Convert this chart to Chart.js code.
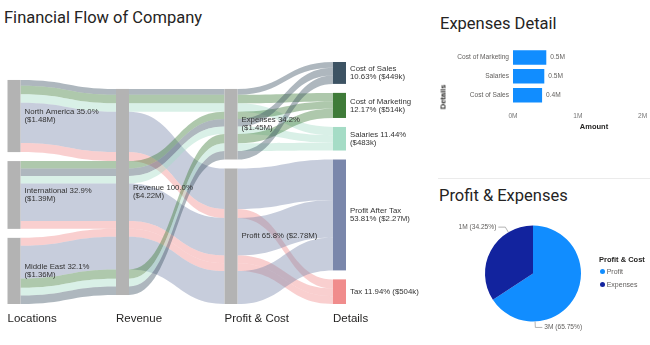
<!DOCTYPE html>
<html>
<head>
<meta charset="utf-8">
<title>Financial Flow of Company</title>
<script src="https://cdn.jsdelivr.net/npm/chart.js@4.4.0/dist/chart.umd.min.js"></script>
<style>
body{margin:0;width:650px;height:345px;overflow:hidden;background:#fff;position:relative;font-family:'Liberation Sans',Arial,sans-serif;color:#252423}
.title{position:absolute;font-family:Roboto,sans-serif;font-size:16.5px;line-height:20px;white-space:nowrap;color:#252423}
.box{position:absolute}
#flowBox{left:0;top:0;width:440px;height:345px}
#barBox{left:440px;top:40px;width:235px;height:91px}
#pieBox{left:440px;top:208px;width:186px;height:132px}
#barYTitle{position:absolute;left:443px;top:97px;font-size:7.5px;font-weight:bold;transform:translate(-50%,-50%) rotate(-90deg);white-space:nowrap}
#sep{position:absolute;left:438px;top:178px;width:212px;height:0;border-top:1px solid #ebebeb}
#pieLegend{position:absolute;left:599px;top:255px;font-size:7px;color:#605e5c}
#pieLegend .head{font-weight:bold;color:#252423;font-size:7.5px;line-height:9px;margin-bottom:1.4px}
#pieLegend .item{display:flex;align-items:center;height:12.6px}
#pieLegend .dot{width:5px;height:5px;border-radius:50%;margin:0 2.2px 0 0.5px}
</style>
</head>
<body>
<div class="title" style="left:4px;top:7.7px">Financial Flow of Company</div>
<div class="title" style="left:440px;top:14.4px">Expenses Detail</div>
<div id="sep"></div>
<div class="title" style="left:439px;top:186px">Profit &amp; Expenses</div>
<div class="box" id="flowBox"><canvas id="flowChart"></canvas></div>
<div class="box" id="barBox"><canvas id="barChart"></canvas></div>
<div id="barYTitle">Details</div>
<div class="box" id="pieBox"><canvas id="pieChart"></canvas></div>
<div id="pieLegend"></div>
<script>
// sankey columns and nodes
const columns=['Locations','Revenue','Profit & Cost','Details'];
const locations=['North America','International','Middle East'];
const costGroups=['Expenses','Profit'];
const details=['Cost of Sales','Cost of Marketing','Salaries','Profit After Tax','Tax'];
// $k per detail (same order as details) for each location
const northAmerica=[120,175,170,828.8,183.8];
const international=[155,150,155,768,160.9];
const middleEast=[173.8,188.8,158,675,159.5];
// stacking order of the bands leaving each location (indexes into details)
const bandOrder=[[0,1,2,3,4],[1,0,2,3,4],[4,3,1,2,0]];
// cost group each detail rolls up into
const detailGroup=[0,0,0,1,1];

// Expenses Detail bars ($k)
const expenseLabels=['Cost of Marketing','Salaries','Cost of Sales'];
const expenseAmounts=[513.8,483,448.8];
const amountTicks=[0,1000,2000];

// Profit & Expenses pie ($k)
const pieLabels=['Profit','Expenses'];
const pieAmounts=[2776,1446];

Chart.defaults.font.family="'Liberation Sans', Arial, sans-serif";

const NODE_W=13,NODE_GAP=184; // gap is in $k so it follows the y scale
const nodeGrey='#b3b3b3';
const detailColors=['#3d5363','#3f7b39','#a5dcc6','#7a87ab','#f08c8c'];
const colAlign=['bottom','center','bottom','bottom'];
const wrapWidth=[86,86,86,72];

function hexA(hex,a){const n=parseInt(hex.slice(1),16);return `rgba(${n>>16},${n>>8&255},${n&255},${a})`}
function money(v){return v>=1000?'$'+(v/1000).toFixed(2)+'M':'$'+Math.round(v)+'k'}
function wrap(ctx,text,maxW){
  const lines=[];let line='';
  text.split(' ').forEach(w=>{const t=line?line+' '+w:w;if(line&&ctx.measureText(t).width>maxW){lines.push(line);line=w}else line=t});
  lines.push(line);return lines;
}

// one path per location/detail pair, in stacking order
const flowRows=[northAmerica,international,middleEast];
const paths=[];
bandOrder.forEach((order,li)=>order.forEach(di=>paths.push({keys:[li,0,detailGroup[di],di],det:di,value:flowRows[li][di]})));
const total=paths.reduce((s,p)=>s+p.value,0);
const nodeNames=[locations,['Revenue'],costGroups,details];
const nodes=nodeNames.map((names,c)=>names.map((name,i)=>({name,value:paths.filter(p=>p.keys[c]===i).reduce((s,p)=>s+p.value,0)})));
const spans=nodes.map(col=>col.reduce((s,n)=>s+n.value,0)+NODE_GAP*(col.length-1));
const yMax=Math.max(...spans);
let prevTop=0;
nodes.forEach((col,c)=>{
  let top=colAlign[c]==='center'?prevTop+spans[c-1]/2-spans[c]/2:yMax-spans[c];
  prevTop=top;
  col.forEach(n=>{n.top=top;n.cursor=top;top+=n.value+NODE_GAP});
});
// paths keep their order through every node, so in and out offsets are the same
paths.forEach(p=>{p.y=p.keys.map((k,c)=>{const n=nodes[c][k];const v=n.cursor;n.cursor+=p.value;return v})});

const sankeyPlugin={id:'sankey',
  beforeDatasetsDraw(chart){
    const {ctx,scales:{x,y}}=chart;
    const px=c=>x.getPixelForValue(c);
    const py=v=>y.getPixelForValue(v);
    ctx.save();
    paths.forEach(p=>{
      for(let c=0;c<3;c++){
        const x0=px(c)+NODE_W,x1=px(c+1),xm=(x0+x1)/2;
        const a0=py(p.y[c]),a1=py(p.y[c]+p.value),b0=py(p.y[c+1]),b1=py(p.y[c+1]+p.value);
        ctx.beginPath();
        ctx.moveTo(x0,a0);ctx.bezierCurveTo(xm,a0,xm,b0,x1,b0);
        ctx.lineTo(x1,b1);ctx.bezierCurveTo(xm,b1,xm,a1,x0,a1);
        ctx.closePath();
        ctx.fillStyle=hexA(detailColors[p.det],0.42);ctx.fill();
      }
    });
    ctx.font='7.8px "Liberation Sans"';ctx.textBaseline='middle';ctx.textAlign='left';
    nodes.forEach((col,c)=>col.forEach((n,i)=>{
      const top=py(n.top),bot=py(n.top+n.value);
      ctx.fillStyle=c===3?detailColors[i]:nodeGrey;
      ctx.fillRect(px(c),top,NODE_W,bot-top);
      const text=`${n.name} ${(n.value/total*100).toFixed(c===3?2:1)}% (${money(n.value)})`;
      const lines=wrap(ctx,text,wrapWidth[c]);
      const mid=(top+bot)/2;
      ctx.fillStyle='#333';
      lines.forEach((l,k)=>ctx.fillText(l,px(c)+NODE_W+4,mid+(k-(lines.length-1)/2)*8));
    }));
    ctx.restore();
  }};

new Chart(document.getElementById('flowChart'),{
  type:'bar',
  data:{labels:columns,datasets:[]},
  options:{responsive:true,maintainAspectRatio:false,animation:false,
    layout:{padding:{left:7,right:107,top:62,bottom:19}},
    plugins:{legend:{display:false},tooltip:{enabled:false}},
    scales:{
      x:{offset:false,afterFit:s=>{s.height=22},grid:{display:false,drawTicks:false},border:{display:false},
        ticks:{align:'start',maxRotation:0,autoSkip:false,padding:7.5,color:'#252423',font:{size:11.5}}},
      y:{display:false,reverse:true,min:0,max:yMax}
    }},
  plugins:[sankeyPlugin]
});

// value labels at the end of each bar
const barValuePlugin={id:'barValues',afterDatasetsDraw(chart){
  const {ctx}=chart;
  ctx.save();ctx.font='6.6px "Liberation Sans"';ctx.fillStyle='#605e5c';ctx.textBaseline='middle';
  chart.getDatasetMeta(0).data.forEach((bar,i)=>ctx.fillText((expenseAmounts[i]/1000).toFixed(1)+'M',bar.x+4,bar.y));
  ctx.restore();
}};

new Chart(document.getElementById('barChart'),{
  type:'bar',
  data:{labels:expenseLabels,datasets:[{data:expenseAmounts,backgroundColor:'#118dff',barPercentage:0.96,categoryPercentage:0.8}]},
  options:{indexAxis:'y',responsive:true,maintainAspectRatio:false,animation:false,
    layout:{padding:{top:6}},
    plugins:{legend:{display:false},tooltip:{enabled:false}},
    scales:{
      x:{min:0,max:2500,afterBuildTicks:s=>{s.ticks=amountTicks.map(v=>({value:v}))},afterFit:s=>{s.height=26.4},
        grid:{display:false,drawTicks:false},border:{display:false},
        ticks:{padding:8,color:'#777',font:{size:6.6},callback:v=>v/1000+'M'},
        title:{display:true,text:'Amount',color:'#252423',font:{size:7.5,weight:'bold'},padding:{top:1.5,bottom:0}}},
      y:{afterFit:s=>{s.width=73},grid:{display:false,drawTicks:false},border:{display:false},
        ticks:{padding:4,color:'#605e5c',font:{size:6.6}}}
    }},
  plugins:[barValuePlugin]
});

// leader lines and "xM (pct)" labels outside the pie
const pieLabelPlugin={id:'pieLabels',afterDatasetsDraw(chart){
  const {ctx}=chart;const sum=pieAmounts.reduce((a,b)=>a+b,0);
  ctx.save();ctx.strokeStyle='#a0a0a0';ctx.lineWidth=0.8;ctx.fillStyle='#605e5c';
  ctx.font='6.6px "Liberation Sans"';ctx.textBaseline='middle';
  chart.getDatasetMeta(0).data.forEach((arc,i)=>{
    const {x,y,startAngle,endAngle,outerRadius:r}=arc.getProps(['x','y','startAngle','endAngle','outerRadius'],true);
    const a=startAngle+(endAngle-startAngle)*0.75;
    const side=Math.cos(a)>=0?1:-1;
    const x0=x+r*Math.cos(a),y0=y+r*Math.sin(a),x1=x+(r+6)*Math.cos(a),y1=y+(r+6)*Math.sin(a),x2=x1+side*7;
    ctx.beginPath();ctx.moveTo(x0,y0);ctx.lineTo(x1,y1);ctx.lineTo(x2,y1);ctx.stroke();
    ctx.textAlign=side>0?'left':'right';
    ctx.fillText(Math.round(pieAmounts[i]/1000)+'M ('+(pieAmounts[i]/sum*100).toFixed(2)+'%)',x2+side*2,y1);
  });
  ctx.restore();
}};

const pie=new Chart(document.getElementById('pieChart'),{
  type:'pie',
  data:{labels:pieLabels,datasets:[{data:pieAmounts,backgroundColor:['#118dff','#12239e'],borderWidth:0}]},
  options:{responsive:true,maintainAspectRatio:false,animation:false,
    layout:{padding:{left:45,right:45,top:17,bottom:18}},
    plugins:{legend:{display:false},tooltip:{enabled:false}}},
  plugins:[pieLabelPlugin]
});

// legend for the pie, built from the chart's own labels and colours
document.getElementById('pieLegend').innerHTML='<div class="head">Profit &amp; Cost</div>'+
  pie.data.labels.map((l,i)=>`<div class="item"><span class="dot" style="background:${pie.data.datasets[0].backgroundColor[i]}"></span>${l}</div>`).join('');
</script>
</body>
</html>
